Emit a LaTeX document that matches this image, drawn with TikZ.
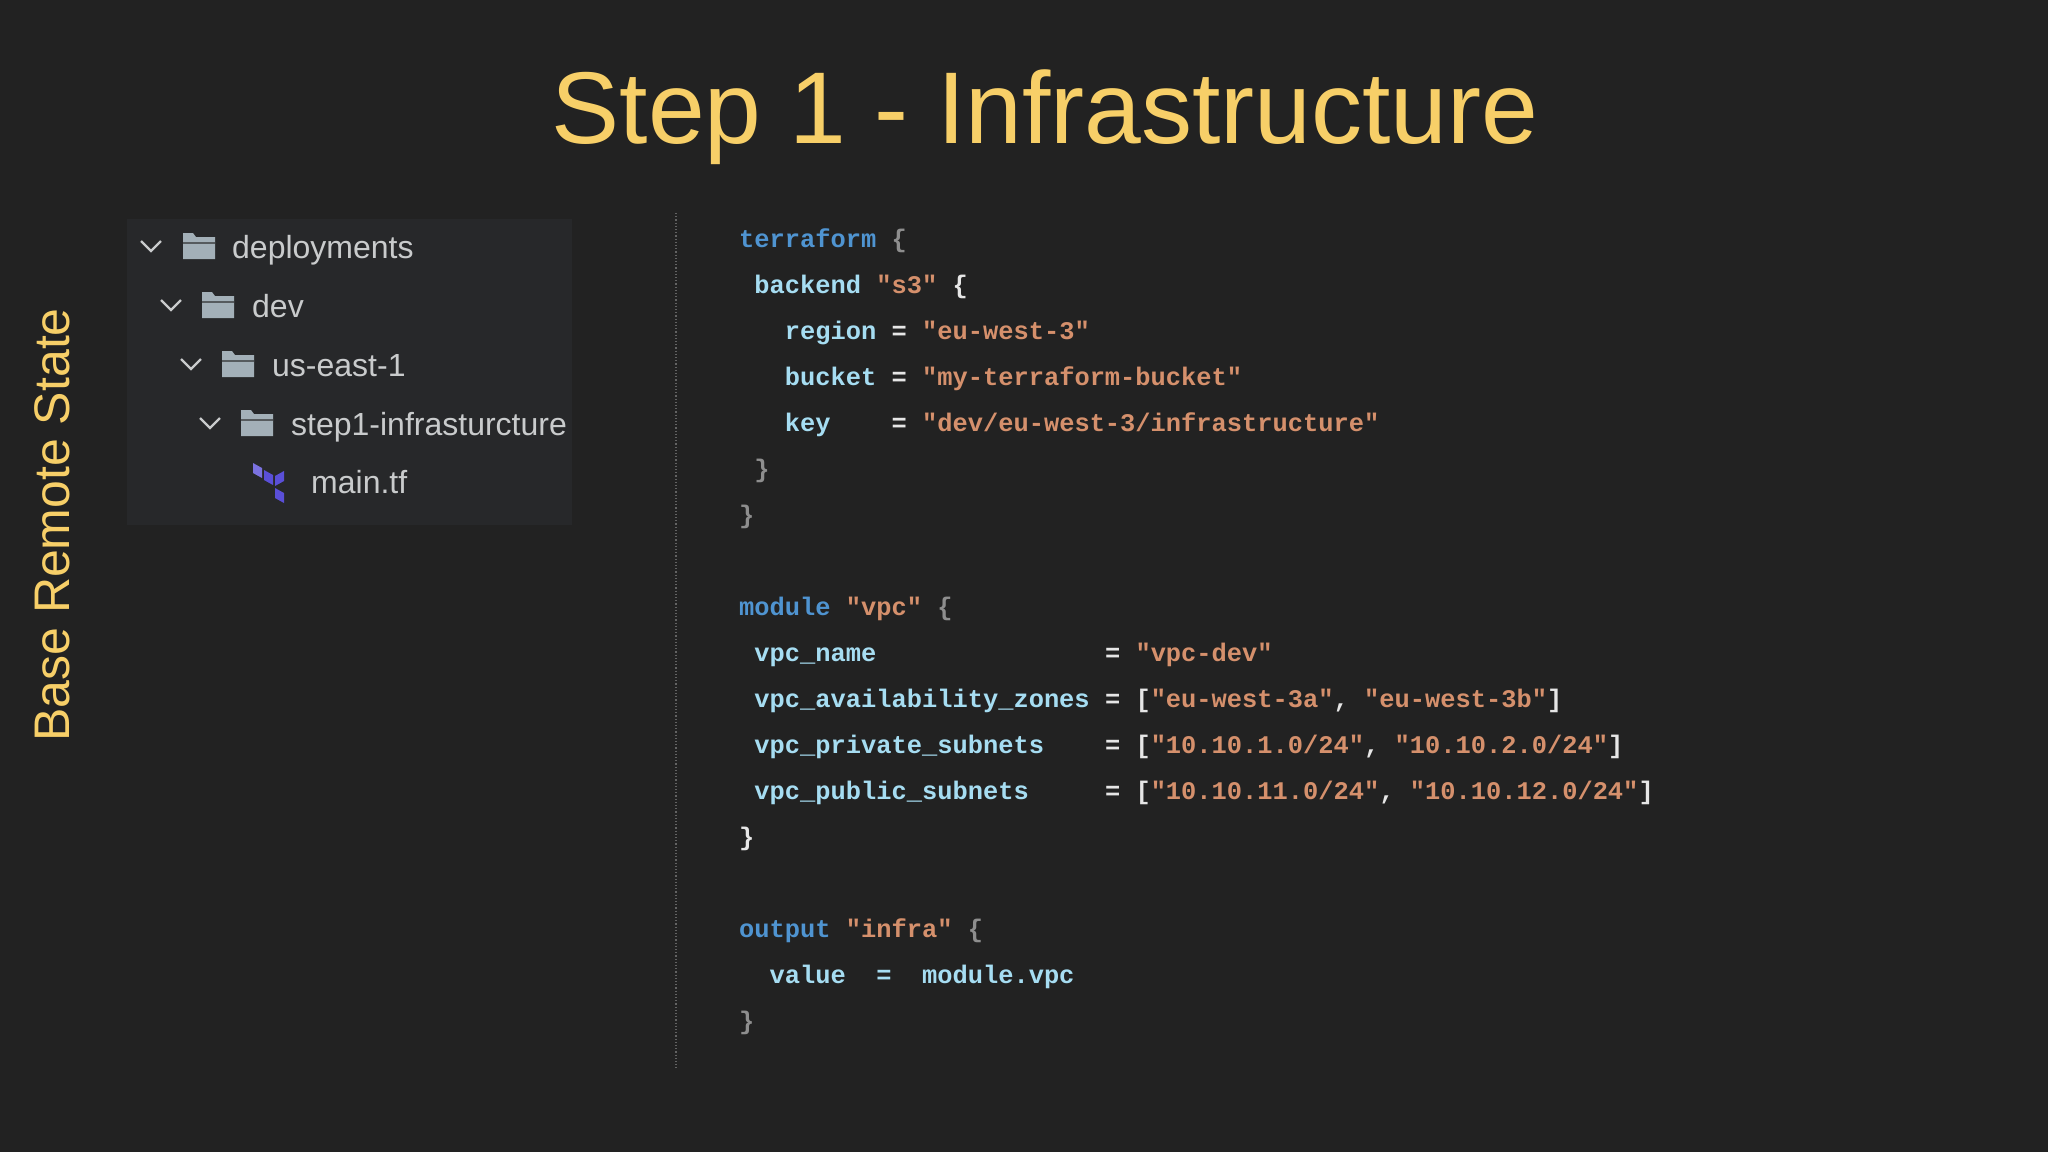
\documentclass[tikz,border=0pt]{standalone}
\usepackage{fontspec}
\setmainfont{Liberation Sans}
\setmonofont{Liberation Mono}
\begin{document}
\begin{tikzpicture}[x=1pt,y=-1pt,
  tree/.style={anchor=base west,text=treegray,font=\fontsize{32}{32}\selectfont,inner sep=0pt},
  code/.style={anchor=base west,inner sep=0pt,font=\fontsize{25.4}{26}\ttfamily\bfseries},
  chev/.style={draw=treegray,line width=2.2pt},
  fold/.style={fill=foldc}]
\definecolor{bg}{HTML}{222222}
\definecolor{panel}{HTML}{27282A}
\definecolor{titley}{HTML}{F7CF68}
\definecolor{treegray}{HTML}{C9CBCC}
\definecolor{foldc}{HTML}{A3B0B8}
\definecolor{kw}{HTML}{4F94D1}
\definecolor{at}{HTML}{A6DDF2}
\definecolor{st}{HTML}{D5906C}
\definecolor{br}{HTML}{8E8E8E}
\definecolor{wh}{HTML}{E6E6E6}
\definecolor{tfp}{HTML}{5A4FD8}
\fill[bg] (0,0) rectangle (2048,1152);
\useasboundingbox (0,0) rectangle (2048,1152);
\node[text=titley,font=\fontsize{102}{102}\selectfont] (title) at (1045,117) {Step 1 - Infrastructure};
\node[text=titley,font=\fontsize{50}{50}\selectfont,rotate=90] (side) at (52,525) {Base Remote State};
% tree panel
\fill[panel] (127,219) rectangle (572,525);
\foreach \i/\cx/\fx/\tx/\t in {0/151/199/232/deployments,1/171/218/252/dev,2/191/238/272/us-east-1,3/210/257/291/step1-infrasturcture}{
  \pgfmathsetmacro{\yy}{247+\i*59}
  \draw[chev] (\cx-10,\yy-6) -- (\cx,\yy+4) -- (\cx+10,\yy-6);
  \fill[foldc] (\fx-16,\yy-14) -- (\fx-6,\yy-14) -- (\fx-3,\yy-10) -- (\fx+16,\yy-10) -- (\fx+16,\yy+12) -- (\fx-16,\yy+12) -- cycle;
  \fill[bg!60!foldc] (\fx-16,\yy-5) rectangle (\fx+16,\yy-3);
  \node[tree] (t\i) at (\tx,\yy+11) {\t};
}
% terraform icon
\fill[tfp] (264,470) -- (273,475) -- (273,485) -- (264,480) -- cycle;
\fill[tfp] (275,476) -- (284,471) -- (284,481) -- (275,486) -- cycle;
\fill[tfp] (275,488) -- (284,493) -- (284,503) -- (275,498) -- cycle;
\fill[tfp!80!white] (262,468) -- (262,478) -- (253,473) -- (253,463) -- cycle;
\node[tree] (t4) at (311,493) {main.tf};
% divider
\coordinate (d1) at (676,213); \coordinate (d2) at (676,1068);
\draw[br!60!bg,line width=1.2pt,dotted] (d1) -- (d2);
% code
\def\cw{15.24}
\def\ln#1#2#3{\node[code] at (739+#2*\cw,{247+#1*46}) {#3};}
\ln{0}{0}{\color{kw}terraform~\color{br}\{}
\ln{1}{1}{\color{at}backend~\color{st}"s3"~\color{wh}\{}
\ln{2}{3}{\color{at}region~\color{wh}=~\color{st}"eu-west-3"}
\ln{3}{3}{\color{at}bucket~\color{wh}=~\color{st}"my-terraform-bucket"}
\ln{4}{3}{\color{at}key~~~~\color{wh}=~\color{st}"dev/eu-west-3/infrastructure"}
\ln{5}{1}{\color{br}\}}
\ln{6}{0}{\color{br}\}}
\ln{8}{0}{\color{kw}module~\color{st}"vpc"~\color{br}\{}
\ln{9}{1}{\color{at}vpc\_name~~~~~~~~~~~~~~~\color{wh}=~\color{st}"vpc-dev"}
\ln{10}{1}{\color{at}vpc\_availability\_zones~\color{wh}=~[\color{st}"eu-west-3a"\color{wh},~\color{st}"eu-west-3b"\color{wh}]}
\ln{11}{1}{\color{at}vpc\_private\_subnets~~~~\color{wh}=~[\color{st}"10.10.1.0/24"\color{wh},~\color{st}"10.10.2.0/24"\color{wh}]}
\ln{12}{1}{\color{at}vpc\_public\_subnets~~~~~\color{wh}=~[\color{st}"10.10.11.0/24"\color{wh},~\color{st}"10.10.12.0/24"\color{wh}]}
\ln{13}{0}{\color{wh}\}}
\ln{15}{0}{\color{kw}output~\color{st}"infra"~\color{br}\{}
\ln{16}{2}{\color{at}value~~=~~module.vpc}
\ln{17}{0}{\color{br}\}}
\end{tikzpicture}
\end{document}
